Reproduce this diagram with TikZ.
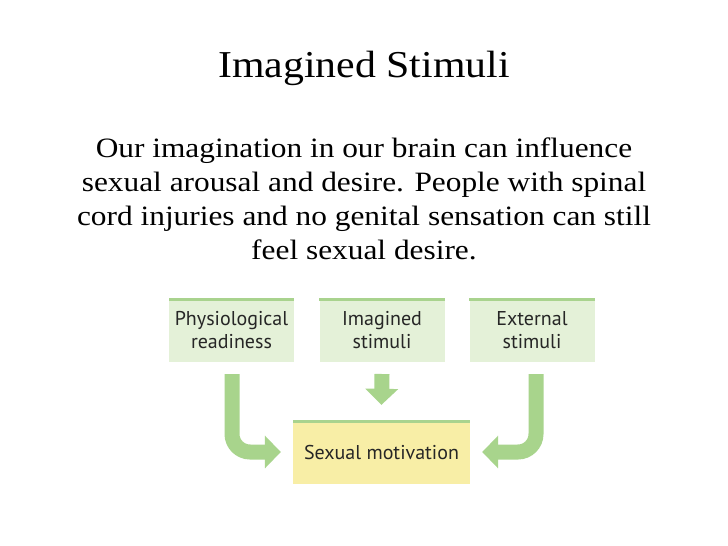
\documentclass[tikz,border=0pt]{standalone}
\usepackage{fontspec}
\setmainfont{Liberation Serif}
\newfontfamily\diag{PT Sans}
\usetikzlibrary{arrows.meta}
\definecolor{boxg}{HTML}{E4F1D8}
\definecolor{barg}{HTML}{A9D38E}
\definecolor{arrg}{HTML}{A8D48C}
\definecolor{boxy}{HTML}{F8EEA6}
\begin{document}
\begin{tikzpicture}[x=1pt,y=-1pt,
  gbox/.style={fill=boxg,minimum width=125pt,minimum height=64pt,font=\diag\fontsize{20}{23}\selectfont,align=center,text=black!85,inner sep=0pt},
  ybox/.style={fill=boxy,minimum width=177pt,minimum height=64pt,font=\diag\fontsize{20}{23}\selectfont,text=black!85,inner sep=0pt},
  flow/.style={draw=arrg,line width=15pt,rounded corners=18pt,-{Triangle[width=32pt,length=16pt]}}]
\useasboundingbox (0,0) rectangle (728,546);
\fill[white] (0,0) rectangle (728,546);
\node[font=\fontsize{38}{44}\selectfont,xscale=1.1] (title) at (364,68) {Imagined Stimuli};
\node[align=center,font=\fontsize{28}{34}\selectfont,xscale=1.12] (body) at (364,199) {Our imagination in our brain can influence\\ sexual arousal and desire. People with spinal\\ cord injuries and no genital sensation can still\\ feel sexual desire.};
\node[gbox] (phys) at (231.5,330) {Physiological\\readiness};
\node[gbox] (imag) at (382,330) {Imagined\\stimuli};
\node[gbox] (ext) at (532,330) {External\\stimuli};
\node[ybox] (sex) at (381.5,452) {Sexual motivation};
\foreach \n in {phys,imag,ext,sex}{\fill[barg] (\n.north west) rectangle ([yshift=-3pt]\n.north east);}
\coordinate (pl) at (232,374);
\coordinate (il) at (382,374);
\coordinate (el) at (536,374);
\draw[flow] (pl) |- ([xshift=-12pt]sex.west);
\draw[flow] (il) -- ([yshift=15pt]sex.north);
\draw[flow] (el) |- ([xshift=12pt]sex.east);
\end{tikzpicture}
\end{document}
